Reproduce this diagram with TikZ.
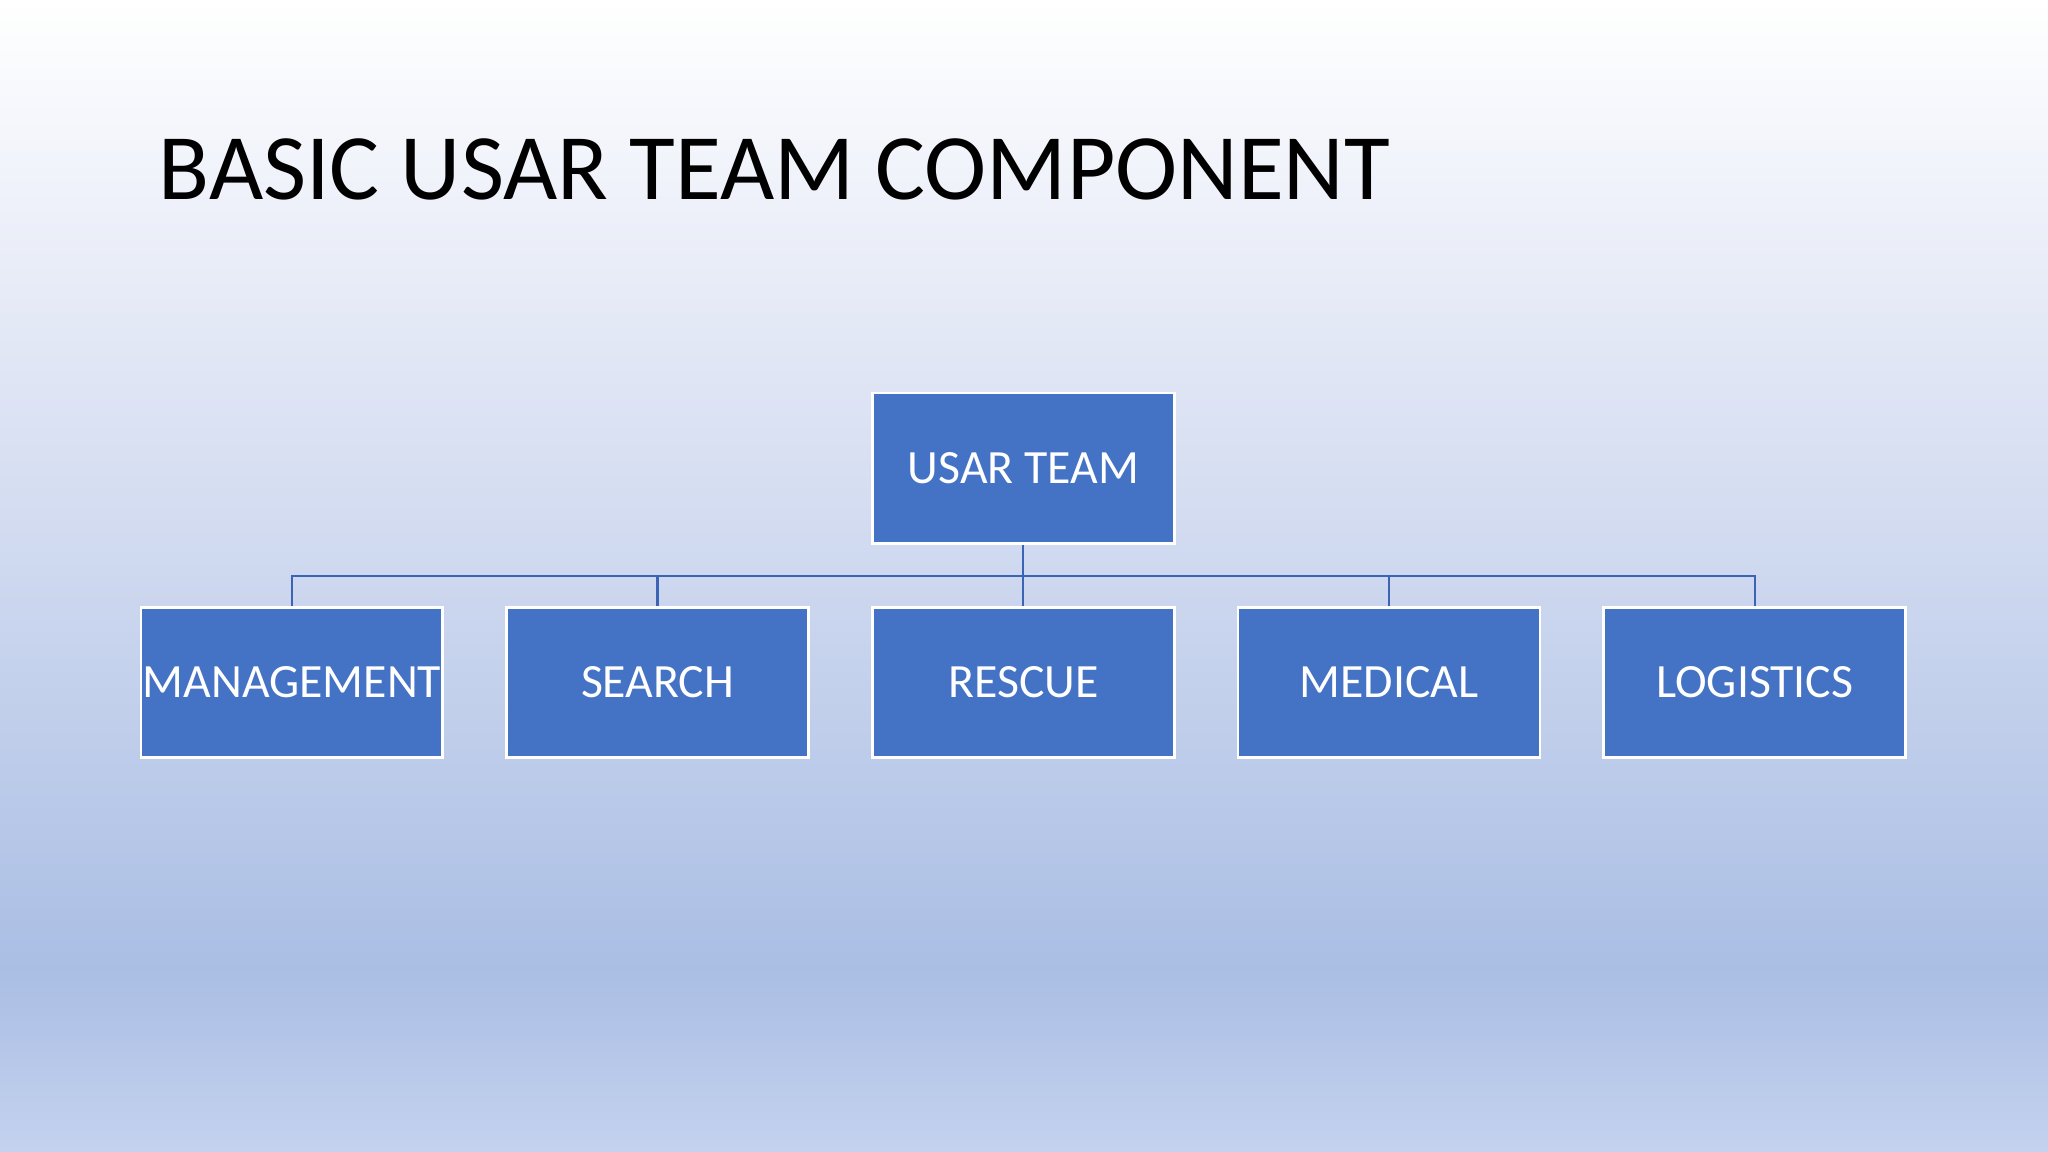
\documentclass[tikz,border=0pt]{standalone}
\usepackage{fontspec}
\setmainfont{Carlito}
\definecolor{boxblue}{RGB}{68,114,196}
\definecolor{bgtop}{RGB}{255,255,255}
\definecolor{bgmid}{RGB}{222,228,244}
\definecolor{bglow}{RGB}{170,190,228}
\definecolor{bgbot}{RGB}{196,210,238}
\definecolor{linkblue}{RGB}{60,100,180}
\begin{document}
\begin{tikzpicture}[x=0.01cm,y=-0.01cm,
  box/.style={draw=white,line width=0.6pt,fill=boxblue,minimum width=2.31cm,minimum height=1.15cm,text=white,font=\fontsize{10.4}{12}\selectfont,inner sep=0pt},
  link/.style={draw=linkblue,line width=0.5pt}]
\useasboundingbox (0,0) rectangle (1568,882);
\fill[top color=bgtop,bottom color=bgmid] (0,0) rectangle (1568,300);
\fill[top color=bgmid,bottom color=bglow] (0,300) rectangle (1568,742);
\fill[top color=bglow,bottom color=bgbot] (0,742) rectangle (1568,882);
\node[anchor=west,font=\fontsize{20.4}{24}\selectfont,inner sep=0pt] (title) at (121,130) {BASIC USAR TEAM COMPONENT};
\node[box] (top) at (783.5,358.5) {USAR TEAM};
\node[box] (c1) at (223.5,522.5) {MANAGEMENT};
\node[box] (c2) at (503.5,522.5) {SEARCH};
\node[box] (c3) at (783.5,522.5) {RESCUE};
\node[box] (c4) at (1063.5,522.5) {MEDICAL};
\node[box] (c5) at (1343.5,522.5) {LOGISTICS};
\coordinate (bus) at (783.5,441);
\draw[link] (top.south) -- (bus);
\foreach \c in {c1,c2,c3,c4,c5}{\draw[link] (bus) -| (\c.north);}
\end{tikzpicture}
\end{document}
